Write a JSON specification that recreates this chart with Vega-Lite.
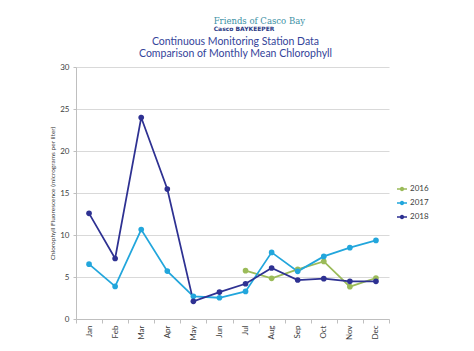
{
  "$schema": "https://vega.github.io/schema/vega-lite/v6.json",
  "padding": {"left": 49, "top": 16, "right": 5, "bottom": 5},
  "title": {
    "text": "Friends of Casco Bay",
    "subtitle": "Casco BAYKEEPER",
    "anchor": "start",
    "dx": 164,
    "font": "DejaVu Serif",
    "fontSize": 8.5,
    "fontWeight": "normal",
    "color": "#3a90a4",
    "subtitleFont": "DejaVu Sans",
    "subtitleFontSize": 6,
    "subtitleFontWeight": "bold",
    "subtitleColor": "#2b3a85",
    "subtitlePadding": 1,
    "offset": 5
  },
  "vconcat": [
    {
      "width": 313,
      "height": 252,
      "title": {
        "text": ["Continuous Monitoring Station Data", "Comparison of Monthly Mean Chlorophyll"],
        "font": "Lato",
        "fontSize": 10.5,
        "fontWeight": "normal",
        "color": "#34449a",
        "anchor": "middle",
        "dx": 3,
        "offset": 4,
        "lineHeight": 11.5
      },
      "data": {
        "values": [
          {"month": "Jul", "year": "2016", "value": 5.75},
          {"month": "Aug", "year": "2016", "value": 4.84},
          {"month": "Sep", "year": "2016", "value": 5.9},
          {"month": "Oct", "year": "2016", "value": 6.86},
          {"month": "Nov", "year": "2016", "value": 3.85},
          {"month": "Dec", "year": "2016", "value": 4.88},
          {"month": "Jan", "year": "2017", "value": 6.53},
          {"month": "Feb", "year": "2017", "value": 3.88},
          {"month": "Mar", "year": "2017", "value": 10.65},
          {"month": "Apr", "year": "2017", "value": 5.7},
          {"month": "May", "year": "2017", "value": 2.7},
          {"month": "Jun", "year": "2017", "value": 2.53},
          {"month": "Jul", "year": "2017", "value": 3.28},
          {"month": "Aug", "year": "2017", "value": 7.93},
          {"month": "Sep", "year": "2017", "value": 5.67},
          {"month": "Oct", "year": "2017", "value": 7.45},
          {"month": "Nov", "year": "2017", "value": 8.49},
          {"month": "Dec", "year": "2017", "value": 9.36},
          {"month": "Jan", "year": "2018", "value": 12.58},
          {"month": "Feb", "year": "2018", "value": 7.2},
          {"month": "Mar", "year": "2018", "value": 23.98},
          {"month": "Apr", "year": "2018", "value": 15.47},
          {"month": "May", "year": "2018", "value": 2.1},
          {"month": "Jun", "year": "2018", "value": 3.2},
          {"month": "Jul", "year": "2018", "value": 4.2},
          {"month": "Aug", "year": "2018", "value": 6.07},
          {"month": "Sep", "year": "2018", "value": 4.64},
          {"month": "Oct", "year": "2018", "value": 4.8},
          {"month": "Nov", "year": "2018", "value": 4.48},
          {"month": "Dec", "year": "2018", "value": 4.48}
        ]
      },
      "encoding": {
        "x": {
          "field": "month",
          "type": "ordinal",
          "sort": ["Jan", "Feb", "Mar", "Apr", "May", "Jun", "Jul", "Aug", "Sep", "Oct", "Nov", "Dec"],
          "scale": {"paddingInner": 0, "paddingOuter": 0},
          "axis": {
            "title": null,
            "labelAngle": 270,
            "labelFontSize": 8,
            "labelColor": "#404040",
            "labelPadding": 2,
            "ticks": true,
            "tickBand": "extent",
            "tickSize": 4,
            "tickColor": "#bfbfbf",
            "domainColor": "#bfbfbf",
            "grid": false
          }
        },
        "y": {
          "field": "value",
          "type": "quantitative",
          "scale": {"domain": [0, 30], "nice": false},
          "axis": {
            "title": "Chlorophyll Fluorescence (micrograms per liter)",
            "titleFontSize": 6.5,
            "titleFontWeight": "normal",
            "titleColor": "#404040",
            "titlePadding": 4,
            "values": [0, 5, 10, 15, 20, 25, 30],
            "labelFontSize": 8,
            "labelColor": "#404040",
            "labelPadding": 4,
            "tickSize": 3,
            "tickColor": "#bfbfbf",
            "domainColor": "#bfbfbf",
            "gridColor": "#d9d9d9"
          }
        },
        "color": {
          "field": "year",
          "type": "nominal",
          "scale": {"domain": ["2016", "2017", "2018"], "range": ["#9bbb59", "#22a6dc", "#2e3192"]},
          "legend": {
            "title": null,
            "orient": "none",
            "legendX": 320,
            "legendY": 116,
            "labelFontSize": 8,
            "labelColor": "#404040",
            "labelOffset": 2,
            "rowPadding": 3,
            "symbolType": "M-1,0L1,0M-0.3,0A0.3,0.3 0 1 1 0.3,0A0.3,0.3 0 1 1 -0.3,0",
            "symbolSize": 100,
            "symbolStrokeWidth": 1.5
          }
        }
      },
      "layer": [
        {"mark": {"type": "line", "strokeWidth": 1.75}},
        {"mark": {"type": "point", "filled": true, "size": 32, "opacity": 1}}
      ]
    }
  ],
  "config": {"view": {"stroke": null}, "font": "Lato"}
}
